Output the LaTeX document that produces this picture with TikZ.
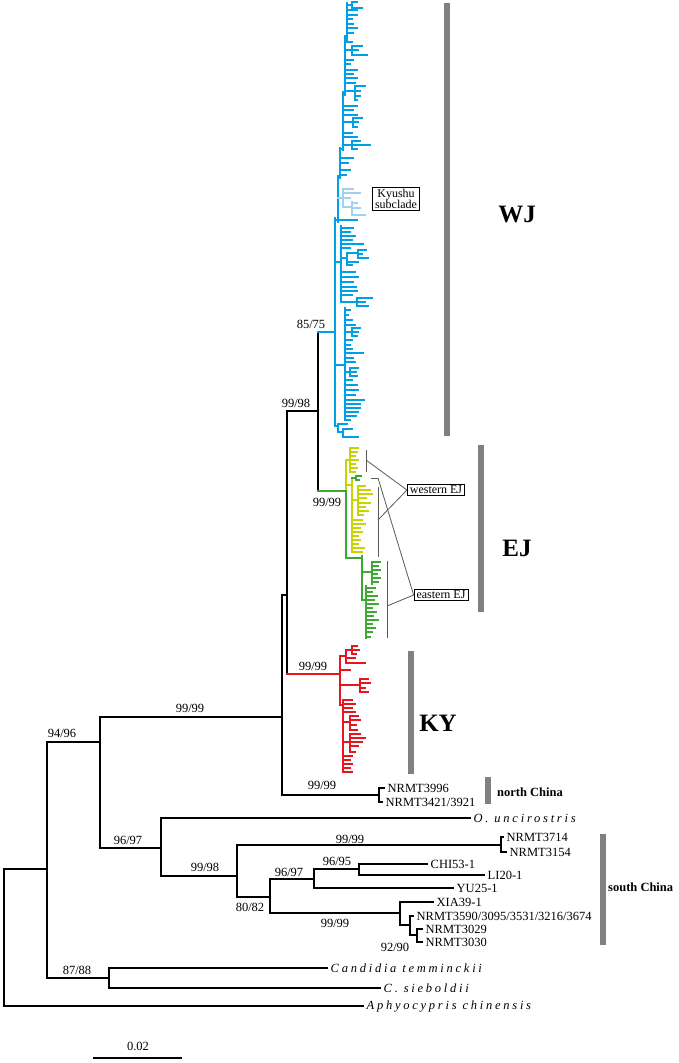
\documentclass[tikz,border=0pt]{standalone}
\usepackage{fontspec}
\setmainfont{Liberation Serif}
\definecolor{wjc}{RGB}{0,160,230}
\definecolor{kyuc}{RGB}{160,210,240}
\definecolor{wejc}{RGB}{200,212,0}
\definecolor{eejc}{RGB}{60,170,50}
\definecolor{kyc}{RGB}{232,20,30}
\definecolor{barc}{RGB}{128,128,128}
\definecolor{brkc}{RGB}{90,90,90}
\newcommand\Hs[2]{\foreach \a/\b/\c in {#2} \draw[#1] (\a,\b) -- (\c,\b);}
\newcommand\Vs[2]{\foreach \a/\b/\c in {#2} \draw[#1] (\a,\b) -- (\a,\c);}
\tikzset{
  bk/.style={black, line width=2.2pt, line cap=rect},
  wjl/.style={wjc, line width=1.8pt, line cap=rect},
  kyul/.style={kyuc, line width=1.8pt, line cap=rect},
  wejl/.style={wejc, line width=1.8pt, line cap=rect},
  eejl/.style={eejc, line width=1.8pt, line cap=rect},
  kyl/.style={kyc, line width=1.8pt, line cap=rect},
  brk/.style={brkc, line width=0.8pt},
  bar/.style={fill=barc, draw=none},
  tl/.style={anchor=west, inner xsep=3.5pt, inner ysep=0pt, font=\fontsize{12.5}{13}\selectfont},
  sl/.style={anchor=west, inner xsep=3.5pt, inner ysep=0pt, font=\fontsize{12.5}{13}\selectfont\itshape\addfontfeatures{LetterSpace=22}},
  bs/.style={font=\fontsize{12.5}{13}\selectfont, inner sep=0pt},
  big/.style={font=\fontsize{25}{27}\selectfont\bfseries, inner sep=0pt},
  reg/.style={anchor=west, font=\fontsize{12.5}{13}\selectfont\bfseries, inner sep=0pt},
  lbox/.style={draw=black, line width=0.8pt, fill=white, font=\fontsize{12}{12.5}\selectfont, align=center, inner xsep=2.5pt, inner ysep=1.5pt}
}
\begin{document}
\begin{tikzpicture}[x=1pt,y=-1pt]
\path[use as bounding box, fill=white] (0,0) rectangle (678,1063);

% ---------- backbone coordinates ----------
\coordinate (n0) at (4,940);
\coordinate (nA) at (47,869);
\coordinate (aph) at (363,1006);
\coordinate (nB) at (100,742);
\coordinate (nC) at (109,978);
\coordinate (cand) at (327,968);
\coordinate (sieb) at (380,988);
\coordinate (nD) at (282,717);
\coordinate (nE) at (161,848);
\coordinate (nF) at (287,595);
\coordinate (nch) at (379,795);
\coordinate (nG) at (318,411);
\coordinate (ky) at (340,674);
\coordinate (wj) at (335,332);
\coordinate (ej) at (346,491);
\coordinate (ounc) at (470,818);
\coordinate (nH) at (237,876);
\coordinate (n37) at (501,845);
\coordinate (nI) at (270,897);
\coordinate (nJ) at (314,879);
\coordinate (nK) at (400,913);
\coordinate (nL) at (359,869);
\coordinate (yu) at (453,888);
\coordinate (chi) at (427,864);
\coordinate (li) at (484,875);
\coordinate (xia) at (433,902);
\coordinate (nM) at (410,925);
\coordinate (t3590) at (413,916);
\coordinate (nN) at (417,935);
\coordinate (t3029) at (422,929);
\coordinate (t3030) at (422,942);
\coordinate (t3714) at (503,837);
\coordinate (t3154) at (506,852);
\coordinate (t3996) at (384,788);
\coordinate (t3421) at (382,802);

% ---------- backbone ----------
\draw[bk] (nA) -| (n0) |- (aph);
\draw[bk] (nB) -| (nA) |- (nC);
\draw[bk] (cand) -| (nC) |- (sieb);
\draw[bk] (nD) -| (nB) |- (nE);
\draw[bk] (nF) -| (nD) |- (nch);
\draw[bk] (nG) -| (nF) -- (nF |- ky);
\draw[kyl] (nF |- ky) -- (ky);
\draw[bk] (nG |- wj) -- (nG |- ej);
\draw[wjl] (nG |- wj) -- (wj);
\draw[eejl] (nG |- ej) -- (ej);
\draw[bk] (ounc) -| (nE) |- (nH);
\draw[bk] (n37) -| (nH) |- (nI);
\draw[bk] (nJ) -| (nI) |- (nK);
\draw[bk] (nL) -| (nJ) |- (yu);
\draw[bk] (chi) -| (nL) |- (li);
\draw[bk] (xia) -| (nK) |- (nM);
\draw[bk] (t3590) -| (nM) |- (nN);
\draw[bk] (t3029) -| (nN) |- (t3030);
\draw[bk] (t3714) -| (n37) |- (t3154);
\draw[bk] (t3996) -| (nch) |- (t3421);

% ---------- WJ clade ----------
\Vs{wjl}{347/3/40, 345/36/95, 343/92/150, 340/148/178, 338/176/222, 335/218/426,
 352/2/8, 352/46/55, 355/86/100, 353/118/127, 352/141/149,
 341/226/302, 347/253/265, 358/250/258, 357/298/306,
 345/308/420, 352/328/336, 350/368/376, 338/424/432, 343/429/437}
\Hs{wjl}{345/38/347, 343/93/345, 340/149/343, 338/177/340,
 347/5/352, 352/2/357, 352/8/362,
 347/10/357, 347/15/357, 347/19/352, 347/24/353, 347/28/357, 347/33/353,
 345/42/352, 345/50/352, 352/46/362, 352/50/358, 352/55/367,
 345/60/353, 345/64/350, 345/70/357, 345/74/353, 345/78/357, 345/83/355,
 345/91/355, 355/86/365, 355/91/360, 355/96/360, 355/100/357,
 343/106/357, 343/110/353, 343/115/357, 343/122/353, 353/118/362, 353/122/358, 353/127/357,
 343/133/352, 343/137/357, 343/145/352, 352/141/360, 352/145/370, 352/149/357,
 340/158/353, 340/163/348, 340/170/350, 340/175/346,
 335/220/357, 335/262/341,
 341/228/353, 341/232/350, 341/236/355, 341/240/352, 341/244/363, 341/248/350,
 341/258/347, 347/253/358, 358/250/366, 358/254/362, 358/258/368, 347/262/358, 347/265/352,
 341/272/355, 341/277/358, 341/282/353, 341/287/356, 341/291/357, 341/295/352,
 341/302/357, 357/298/372, 357/302/365, 357/306/368,
 335/365/345,
 345/310/350, 345/315/348, 345/320/352, 345/325/355,
 345/332/352, 352/328/360, 352/332/358, 352/336/357,
 345/340/352, 345/345/350, 345/349/352, 345/353/363, 345/358/353, 345/362/355,
 345/372/350, 350/368/358, 350/372/356, 350/376/357,
 345/380/352, 345/385/357, 345/390/358, 345/395/355, 345/400/364, 345/404/360,
 345/408/360, 345/412/358, 345/416/356, 345/420/350,
 335/426/338, 338/424/347, 338/432/343, 343/429/352, 343/437/358}
% Kyushu subclade
\Vs{kyul}{343/189/207, 352/202/215}
\Hs{kyul}{338/198/343, 343/189/353, 343/193/360, 343/198/350, 343/207/352, 352/203/357, 352/208/360, 352/215/365}

% ---------- EJ clade ----------
\Vs{wejl}{346/460/491, 350/448/472, 352/478/552, 358/486/515}
\Hs{wejl}{346/460/350, 350/448/358, 350/452/357, 350/456/355, 350/460/358, 350/464/355, 350/468/357, 350/472/355,
 346/485/352, 352/500/358, 358/486/365, 358/490/370, 358/494/372, 358/498/366, 358/503/370, 358/507/365,
 358/511/368, 358/515/363, 352/520/362, 352/524/365, 352/528/360, 352/532/362, 352/536/358, 352/540/360,
 352/544/358, 352/548/364, 352/552/362}
\Vs{eejl}{346/491/558, 362/556/600, 372/562/584, 366/586/638, 356/476/480}
\Hs{eejl}{352/478/356, 356/476/361, 356/480/359,
 346/558/362, 362/572/372, 372/562/380, 372/566/378, 372/570/380, 372/574/377, 372/578/380, 372/582/378,
 362/600/366, 366/588/375, 366/592/372, 366/596/377, 366/600/374, 366/604/378, 366/608/372, 366/612/376,
 366/616/373, 366/620/378, 366/624/372, 366/628/375, 366/632/372, 366/637/370}

% ---------- KY clade ----------
\Vs{kyl}{340/656/705, 346/650/663, 352/646/654, 360/679/692, 343/700/772, 350/716/730, 350/734/752}
\Hs{kyl}{340/656/346, 346/650/352, 352/646/357, 352/650/359, 352/654/356, 346/658/355, 346/663/365,
 340/670/350, 340/685/360, 360/679/368, 360/683/370, 360/688/365, 360/692/368, 340/705/343,
 343/700/352, 343/704/355, 343/708/352, 343/712/355, 343/722/350, 350/716/358, 350/720/360,
 350/725/356, 350/730/357, 343/742/350, 350/734/360, 350/738/365, 350/742/362, 350/746/358,
 350/752/355, 343/756/352, 343/760/350, 343/764/352, 343/768/350, 343/772/352}

% ---------- grey bars ----------
\fill[bar] (444,3) rectangle (450,436);
\fill[bar] (478,445) rectangle (484,612);
\fill[bar] (408,651) rectangle (414,774);
\fill[bar] (485,777) rectangle (491,804);
\fill[bar] (600,834) rectangle (606,945);
\node[big] (lwj) at (517,215) {WJ};
\node[big] (lej) at (517,548) {EJ};
\node[big] (lky) at (438,723) {KY};
\node[reg] (lnc) at (497,792) {north China};
\node[reg] (lsc) at (608,887) {south China};

% ---------- boxes and brackets ----------
\node[lbox] (bkyu) at (396,199) {Kyushu\\[-1pt]subclade};
\node[lbox] (bwej) at (436,490) {western EJ};
\node[lbox] (beej) at (441,595) {eastern EJ};
\coordinate (b1) at (366,460);
\coordinate (b2) at (378,478);
\coordinate (b3) at (378,520);
\coordinate (b4) at (387,606);
\draw[brk] (366,450) -- (366,472);
\draw[brk] (371,478) -- (b2);
\draw[brk] (378,487) -- (378,557);
\draw[brk] (387,561) -- (387,638);
\draw[brk] (b1) -- (bwej.west);
\draw[brk] (b3) -- (bwej.west);
\draw[brk] (b2) -- (beej.west);
\draw[brk] (b4) -- (beej.west);

% ---------- tip labels ----------
\node[tl] at (t3996) {NRMT3996};
\node[tl] at (t3421) {NRMT3421/3921};
\node[sl] at (ounc) {O. uncirostris};
\node[tl] at (t3714) {NRMT3714};
\node[tl] at (t3154) {NRMT3154};
\node[tl] at (chi) {CHI53-1};
\node[tl] at (li) {LI20-1};
\node[tl] at (yu) {YU25-1};
\node[tl] at (xia) {XIA39-1};
\node[tl] at (t3590) {NRMT3590/3095/3531/3216/3674};
\node[tl] at (t3029) {NRMT3029};
\node[tl] at (t3030) {NRMT3030};
\node[sl] at (cand) {Candidia temminckii};
\node[sl] at (sieb) {C. sieboldii};
\node[sl] at (aph) {Aphyocypris chinensis};

% ---------- support values ----------
\node[bs] at (62,733) {94/96};
\node[bs] at (77,970) {87/88};
\node[bs] at (128,840) {96/97};
\node[bs] at (190,708) {99/99};
\node[bs] at (205,867) {99/98};
\node[bs] at (250,907) {80/82};
\node[bs] at (289,872) {96/97};
\node[bs] at (337,861) {96/95};
\node[bs] at (350,839) {99/99};
\node[bs] at (335,923) {99/99};
\node[bs] at (395,947) {92/90};
\node[bs] at (322,785) {99/99};
\node[bs] at (313,666) {99/99};
\node[bs] at (327,502) {99/99};
\node[bs] at (311,324) {85/75};
\node[bs] at (296,403) {99/98};

% ---------- scale bar ----------
\coordinate (s1) at (93,1058);
\coordinate (s2) at (182,1058);
\draw[black, line width=2pt] (s1) -- (s2);
\node[bs] at (138,1046) {0.02};
\end{tikzpicture}
\end{document}
